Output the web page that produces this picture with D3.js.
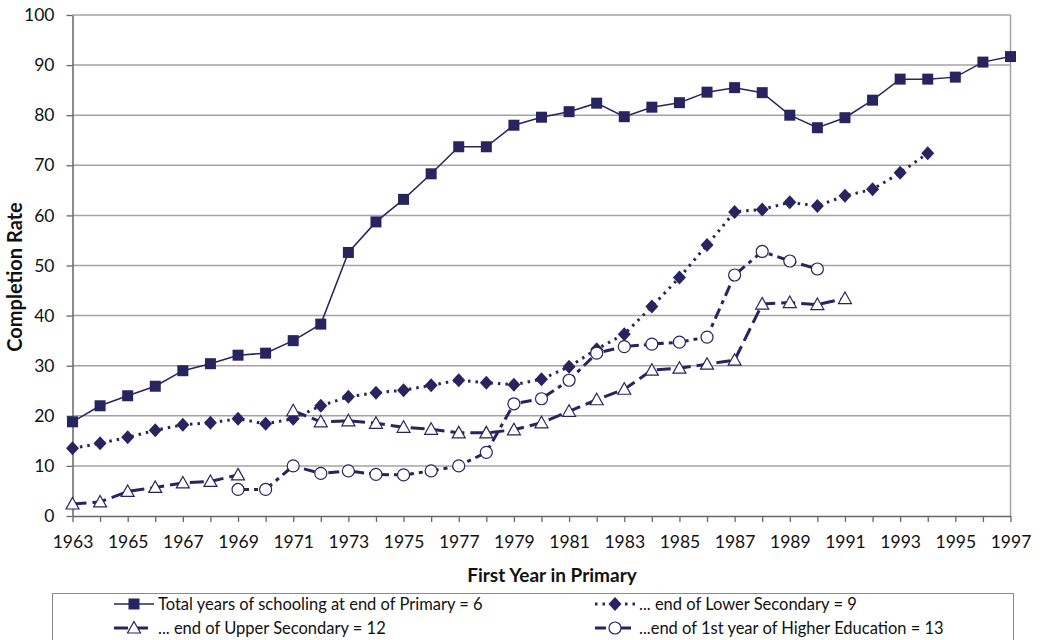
<!DOCTYPE html>
<html>
<head>
<meta charset="utf-8">
<script src="https://cdn.jsdelivr.net/npm/d3@7"></script>
<style>
  body { margin: 0; background: #fff; }
  text { font-family: Lato, "Open Sans", sans-serif; fill: #111; }
</style>
</head>
<body>
<svg id="chart" width="1044" height="640"></svg>
<script>
// data
var years = [1963, 1964, 1965, 1966, 1967, 1968, 1969, 1970, 1971, 1972, 1973, 1974,
    1975, 1976, 1977, 1978, 1979, 1980, 1981, 1982, 1983, 1984, 1985, 1986, 1987,
    1988, 1989, 1990, 1991, 1992, 1993, 1994, 1995, 1996, 1997];
var xTickLabels = [1963, 1965, 1967, 1969, 1971, 1973, 1975, 1977, 1979, 1981,
    1983, 1985, 1987, 1989, 1991, 1993, 1995, 1997];
var yTicks = [0, 10, 20, 30, 40, 50, 60, 70, 80, 90, 100];

var primary = [18.8, 22.0, 24.0, 25.9, 29.0, 30.4, 32.1, 32.5, 35.0, 38.3, 52.6, 58.7,
    63.2, 68.3, 73.7, 73.7, 78.0, 79.6, 80.7, 82.4, 79.7, 81.6, 82.5, 84.6, 85.5,
    84.5, 80.0, 77.5, 79.5, 83.0, 87.2, 87.2, 87.6, 90.6, 91.7];
var lowerSecondary = [13.5, 14.5, 15.7, 17.1, 18.2, 18.6, 19.4, 18.4, 19.4, 22.0, 23.8,
    24.6, 25.1, 26.1, 27.1, 26.6, 26.2, 27.3, 29.8, 33.3, 36.3, 41.8, 47.6, 54.1, 60.7,
    61.2, 62.6, 61.9, 63.9, 65.2, 68.5, 72.4, null, null, null];
var upperSecondary = [2.4, 2.8, 4.9, 5.7, 6.6, 6.9, 8.2, null, 21.0, 18.8, 19.0, 18.5,
    17.7, 17.3, 16.6, 16.6, 17.2, 18.6, 20.9, 23.2, 25.3, 29.1, 29.5, 30.3, 31.1,
    42.3, 42.6, 42.2, 43.4, null, null, null, null, null, null];
var higherEd = [null, null, null, null, null, null, 5.3, 5.3, 10.0, 8.5, 9.0, 8.3,
    8.2, 9.0, 10.0, 12.7, 22.4, 23.4, 27.1, 32.5, 33.8, 34.3, 34.7, 35.7, 48.1,
    52.8, 50.9, 49.3, null, null, null, null, null, null, null];

var navy = "#28245f";

var series = [
    {name: "Total years of schooling at end of Primary = 6", values: primary,
     marker: "square", dash: null, width: 1.5, col: 0, row: 0},
    {name: "... end of Lower Secondary = 9", values: lowerSecondary,
     marker: "diamond", dash: "2.5,5", width: 3, col: 1, row: 0},
    {name: "... end of Upper Secondary = 12", values: upperSecondary,
     marker: "triangle", dash: "14,6", width: 3, col: 0, row: 1},
    {name: "...end of 1st year of Higher Education = 13", values: higherEd,
     marker: "circle", dash: "11,5,4,5", width: 3, col: 1, row: 1}
];

var svg = d3.select("#chart");
var plotLeft = 72.5, plotRight = 1010.5, plotTop = 15, plotBottom = 516;

var x = d3.scaleLinear().domain([1963, 1997]).range([plotLeft, plotRight]);
var y = d3.scaleLinear().domain([0, 100]).range([plotBottom, plotTop]);

// gridlines
svg.append("g").selectAll("line")
    .data(yTicks.slice(1))
    .enter().append("line")
    .attr("x1", plotLeft).attr("x2", plotRight)
    .attr("y1", function(d) { return y(d); })
    .attr("y2", function(d) { return y(d); })
    .attr("stroke", "#a3a3a3")
    .attr("stroke-width", 1.5);

// right border of plot
svg.append("line")
    .attr("x1", plotRight).attr("x2", plotRight)
    .attr("y1", plotTop).attr("y2", plotBottom)
    .attr("stroke", "#a3a3a3").attr("stroke-width", 1.5);

// axes
var yAxis = svg.append("g")
    .attr("transform", "translate(" + plotLeft + ",0)")
    .call(d3.axisLeft(y).tickValues(yTicks).tickSize(6).tickPadding(12).tickSizeOuter(0));
var xAxis = svg.append("g")
    .attr("transform", "translate(0," + plotBottom + ")")
    .call(d3.axisBottom(x).tickValues(years).tickSize(6).tickPadding(14).tickSizeOuter(0)
        .tickFormat(function(d) { return xTickLabels.indexOf(d) >= 0 ? d : ""; }));

[xAxis, yAxis].forEach(function(a) {
    a.select(".domain").attr("stroke", "#666").attr("stroke-width", 1.5);
    a.selectAll(".tick line").attr("stroke", "#666").attr("stroke-width", 1.3);
    a.selectAll("text").style("font-size", "17.5px").attr("fill", "#111");
});

// axis titles
svg.append("text")
    .attr("transform", "translate(22,277) rotate(-90)")
    .attr("text-anchor", "middle")
    .style("font-size", "20px").style("font-weight", "bold")
    .text("Completion Rate");
svg.append("text")
    .attr("x", 552).attr("y", 582)
    .attr("text-anchor", "middle")
    .style("font-size", "19px").style("font-weight", "bold")
    .text("First Year in Primary");

function drawMarker(g, type, cx, cy) {
    if (type == "square") {
        g.append("rect").attr("x", cx - 5.5).attr("y", cy - 5.5)
            .attr("width", 11).attr("height", 11).attr("fill", navy);
    } else if (type == "diamond") {
        g.append("path").attr("d", "M" + cx + "," + (cy - 7) + "L" + (cx + 6.5) + "," + cy +
            "L" + cx + "," + (cy + 7) + "L" + (cx - 6.5) + "," + cy + "Z").attr("fill", navy);
    } else if (type == "triangle") {
        g.append("path").attr("d", "M" + cx + "," + (cy - 6.5) + "L" + (cx + 6.5) + "," + (cy + 5) +
            "L" + (cx - 6.5) + "," + (cy + 5) + "Z")
            .attr("fill", "#fff").attr("stroke", navy).attr("stroke-width", 1.2);
    } else {
        g.append("circle").attr("cx", cx).attr("cy", cy).attr("r", 6)
            .attr("fill", "#fff").attr("stroke", navy).attr("stroke-width", 1.2);
    }
}

var line = d3.line()
    .defined(function(d) { return d.v != null; })
    .x(function(d) { return x(d.year); })
    .y(function(d) { return y(d.v); });

series.forEach(function(s) {
    var pts = years.map(function(yr, i) { return {year: yr, v: s.values[i]}; });
    var g = svg.append("g");
    g.append("path")
        .datum(pts)
        .attr("fill", "none")
        .attr("stroke", navy)
        .attr("stroke-width", s.width)
        .attr("stroke-dasharray", s.dash)
        .attr("d", line);
    pts.filter(function(d) { return d.v != null; }).forEach(function(d) {
        drawMarker(g, s.marker, x(d.year), y(d.v));
    });
});

// legend
var legend = svg.append("g");
legend.append("rect")
    .attr("x", 52.5).attr("y", 593.5).attr("width", 961).attr("height", 60)
    .attr("fill", "#fff").attr("stroke", "#8a8a8a").attr("stroke-width", 1);
var colX = [114, 595], rowY = [604, 628];
series.forEach(function(s) {
    var lx = colX[s.col], ly = rowY[s.row];
    legend.append("line")
        .attr("x1", lx).attr("x2", lx + 40).attr("y1", ly).attr("y2", ly)
        .attr("stroke", navy).attr("stroke-width", s.width)
        .attr("stroke-dasharray", s.dash);
    drawMarker(legend, s.marker, lx + 20, ly);
    legend.append("text")
        .attr("x", lx + 44).attr("y", ly).attr("dy", "0.35em")
        .style("font-size", "16.5px")
        .text(s.name);
});
</script>
</body>
</html>
